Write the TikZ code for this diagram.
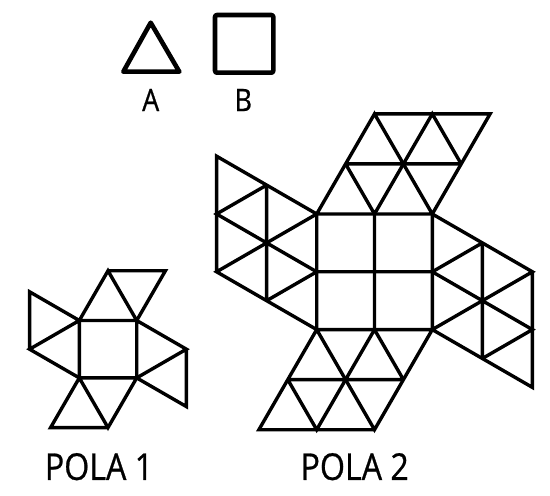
\documentclass[tikz,border=0pt]{standalone}
\usepackage{fontspec}
\setmainfont{Open Sans}[FakeStretch=0.87, FakeBold=0.7]
\newcommand{\hh}{0.866}
\tikzset{
  netline/.style={line width=3.4pt, line join=miter},
  iconline/.style={line width=4.6pt, line join=round},
  letterlbl/.style={font=\fontsize{31}{36}\selectfont, inner sep=0pt},
  polalbl/.style={font=\fontsize{37}{44}\selectfont, inner sep=0pt}
}
\begin{document}
\begin{tikzpicture}[x=1pt, y=1pt]
  \useasboundingbox (0,0) rectangle (550,496);
  % the two pieces
  \draw[iconline] (123.3,424.3) -- (179.3,424.3) -- (150.7,473.3) -- cycle;
  \draw[iconline, rounded corners=2pt] (215,423.3) rectangle (273.3,481);
  \node[letterlbl] (labA) at (150.7,396) {A};
  \node[letterlbl] (labB) at (243.3,396) {B};
  % pola 1: one square, eight triangles
  \begin{scope}[shift={(108pt,146.8pt)}, x=57.4pt, y=57.4pt, netline]
    \foreach \r in {0,90,180,270}
      \draw[rotate=\r] (-0.5,0.5) -- (0.5,0.5) -- (0,0.5+\hh) -- cycle
        (0,0.5+\hh) -- (1,0.5+\hh) -- (0.5,0.5);
  \end{scope}
  % pola 2: same net at twice the size, cut into unit pieces
  \begin{scope}[shift={(374.5pt,224.2pt)}, x=57.8pt, y=57.8pt, netline]
    \foreach \r in {0,90,180,270} {
      \draw[rotate=\r] (-1,1) -- (1,1) -- (0,1+2*\hh) -- cycle
        (0,1+2*\hh) -- (2,1+2*\hh) -- (1,1);
      \draw[rotate=\r] (0,0) -- (0,1)
        (-0.5,1+\hh) -- (1.5,1+\hh)
        (-0.5,1+\hh) -- (0,1) -- (0.5,1+\hh) -- (1,1+2*\hh) -- (1.5,1+\hh);
    }
  \end{scope}
  \node[polalbl] (pola1) at (99,29.3) {POLA 1};
  \node[polalbl] (pola2) at (354.7,29.3) {POLA 2};
\end{tikzpicture}
\end{document}
